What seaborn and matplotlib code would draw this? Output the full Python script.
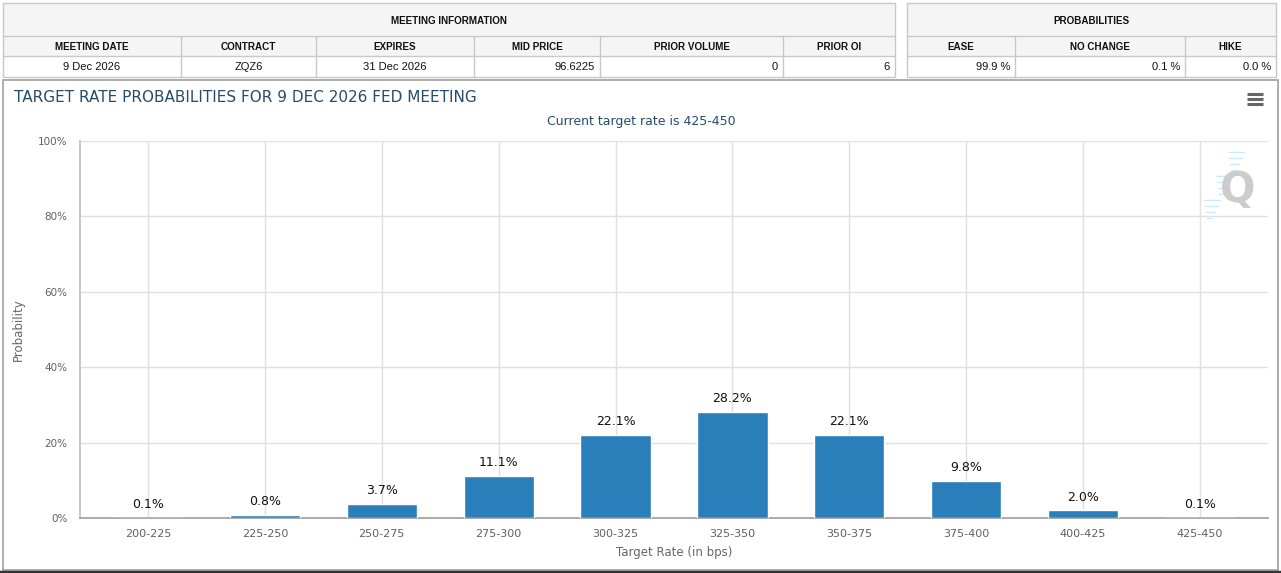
import matplotlib
matplotlib.use("Agg")
import matplotlib.pyplot as plt
import seaborn as sns
from matplotlib.patches import Rectangle

# Data
categories = ['200-225', '225-250', '250-275', '275-300', '300-325',
              '325-350', '350-375', '375-400', '400-425', '425-450']
probs = [0.1, 0.8, 3.7, 11.1, 22.1, 28.2, 22.1, 9.8, 2.0, 0.1]
y_ticks = [0, 20, 40, 60, 80, 100]

meeting_cols = ['MEETING DATE', 'CONTRACT', 'EXPIRES', 'MID PRICE', 'PRIOR VOLUME', 'PRIOR OI']
meeting_vals = ['9 Dec 2026', 'ZQZ6', '31 Dec 2026', '96.6225', '0', '6']
prob_cols = ['EASE', 'NO CHANGE', 'HIKE']
prob_vals = ['99.9 %', '0.1 %', '0.0 %']

title = "TARGET RATE PROBABILITIES FOR 9 DEC 2026 FED MEETING"
subtitle = "Current target rate is 425-450"

sns.set_theme(style="white")
plt.rcParams['font.family'] = ['DejaVu Sans']

W, H = 1281, 573
fig = plt.figure(figsize=(W / 100, H / 100), dpi=100)
fig.patch.set_facecolor('white')

# overlay in pixel coordinates for tables / frame
ov = fig.add_axes([0, 0, 1, 1])
ov.set_xlim(0, W)
ov.set_ylim(H, 0)
ov.axis('off')

border = '#c8c8c8'
head_bg = '#f5f5f5'


def draw_table(x_edges, top, group_title, cols, vals, align_right):
    r1, r2, r3 = top, top + 33, top + 53
    bottom = top + 74
    x0, x1 = x_edges[0], x_edges[-1]
    ov.add_patch(Rectangle((x0, r1), x1 - x0, r3 - r1, facecolor=head_bg, edgecolor='none'))
    ov.add_patch(Rectangle((x0, r3), x1 - x0, bottom - r3, facecolor='white', edgecolor='none'))
    ov.add_patch(Rectangle((x0, r1), x1 - x0, bottom - r1, facecolor='none', edgecolor=border, lw=1))
    for yy in (r2, r3):
        ov.plot([x0, x1], [yy, yy], color=border, lw=1)
    for xx in x_edges[1:-1]:
        ov.plot([xx, xx], [r2, bottom], color=border, lw=1)
    ov.text((x0 + x1) / 2, (r1 + r2) / 2 + 1, group_title, ha='center', va='center',
            fontsize=7.1, fontweight='bold', family='Liberation Sans', color='#111111')
    for i, (c, v) in enumerate(zip(cols, vals)):
        a, b = x_edges[i], x_edges[i + 1]
        ov.text((a + b) / 2, (r2 + r3) / 2 + 1, c, ha='center', va='center',
                fontsize=7.1, fontweight='bold', family='Liberation Sans', color='#111111')
        if align_right[i]:
            ov.text(b - 5, (r3 + bottom) / 2 + 1, v, ha='right', va='center',
                    fontsize=8, family='Liberation Sans', color='#111111')
        else:
            ov.text((a + b) / 2, (r3 + bottom) / 2 + 1, v, ha='center', va='center',
                    fontsize=8, family='Liberation Sans', color='#111111')


draw_table([3, 181, 316, 474, 600, 783, 895], 3, 'MEETING INFORMATION',
           meeting_cols, meeting_vals, [False, False, False, True, True, True])
draw_table([907, 1015, 1185, 1276], 3, 'PROBABILITIES',
           prob_cols, prob_vals, [True, True, True])

# chart panel frame
ov.add_patch(Rectangle((3, 80), 1275, 490, facecolor='none', edgecolor='#a0a0a0', lw=1.2))
ov.plot([0, W], [572, 572], color='#333333', lw=2.5)

ov.text(14, 97, title, ha='left', va='center', fontsize=11, color='#274b6d')
ov.text(641, 121, subtitle, ha='center', va='center', fontsize=9, color='#274b6d')

# hamburger menu
for yy in (94, 99, 104):
    ov.plot([1247, 1263], [yy, yy], color='#666666', lw=2.2, solid_capstyle='butt')

# watermark dashes
for k in range(12):
    yy = 218 - 6 * k
    xr = 1212 + 3 * k
    ov.plot([xr - 5 - (k % 4) * 4, xr], [yy, yy], color='#c9ecfa', lw=1)

# main plot
ax = fig.add_axes([80 / W, 1 - 518 / H, (1268 - 80) / W, (518 - 141) / H])
ax.set_facecolor('none')
sns.barplot(x=categories, y=probs, color='#2a7fba', saturation=1, width=0.6, ax=ax, zorder=3)
ax.set_xlim(-0.582, 9.582)
ax.set_ylim(0, 100)
ax.set_yticks(y_ticks)
ax.set_yticklabels([f"{t}%" for t in y_ticks])
ax.grid(True, axis='both', color='#e0e0e0', lw=1, zorder=0)
ax.set_axisbelow(True)
for s in ['top', 'right']:
    ax.spines[s].set_visible(False)
ax.spines['left'].set_color('#c0c0c0')
ax.spines['bottom'].set_color('#a0a0a0')
ax.tick_params(axis='y', length=7, color='#e0e0e0', labelsize=7.5, labelcolor='#606060', pad=2)
ax.tick_params(axis='x', length=0, labelsize=8, labelcolor='#606060', pad=8)

for c in ax.containers:
    ax.bar_label(c, fmt='%.1f%%', padding=5, fontsize=9, color='#111111')

ax.set_xlabel("Target Rate (in bps)", fontsize=8.5, color='#666666', labelpad=5)
ax.set_ylabel("Probability", fontsize=8.5, color='#666666')
ax.yaxis.set_label_coords((25 - 80) / (1268 - 80), 0.5)

# watermark Q
ax.text(9.32, 87, "Q", ha='center', va='center', fontsize=30, fontweight='bold',
        color='#cccccc', zorder=1)

fig.savefig("out.png", dpi=100, facecolor=fig.get_facecolor())
